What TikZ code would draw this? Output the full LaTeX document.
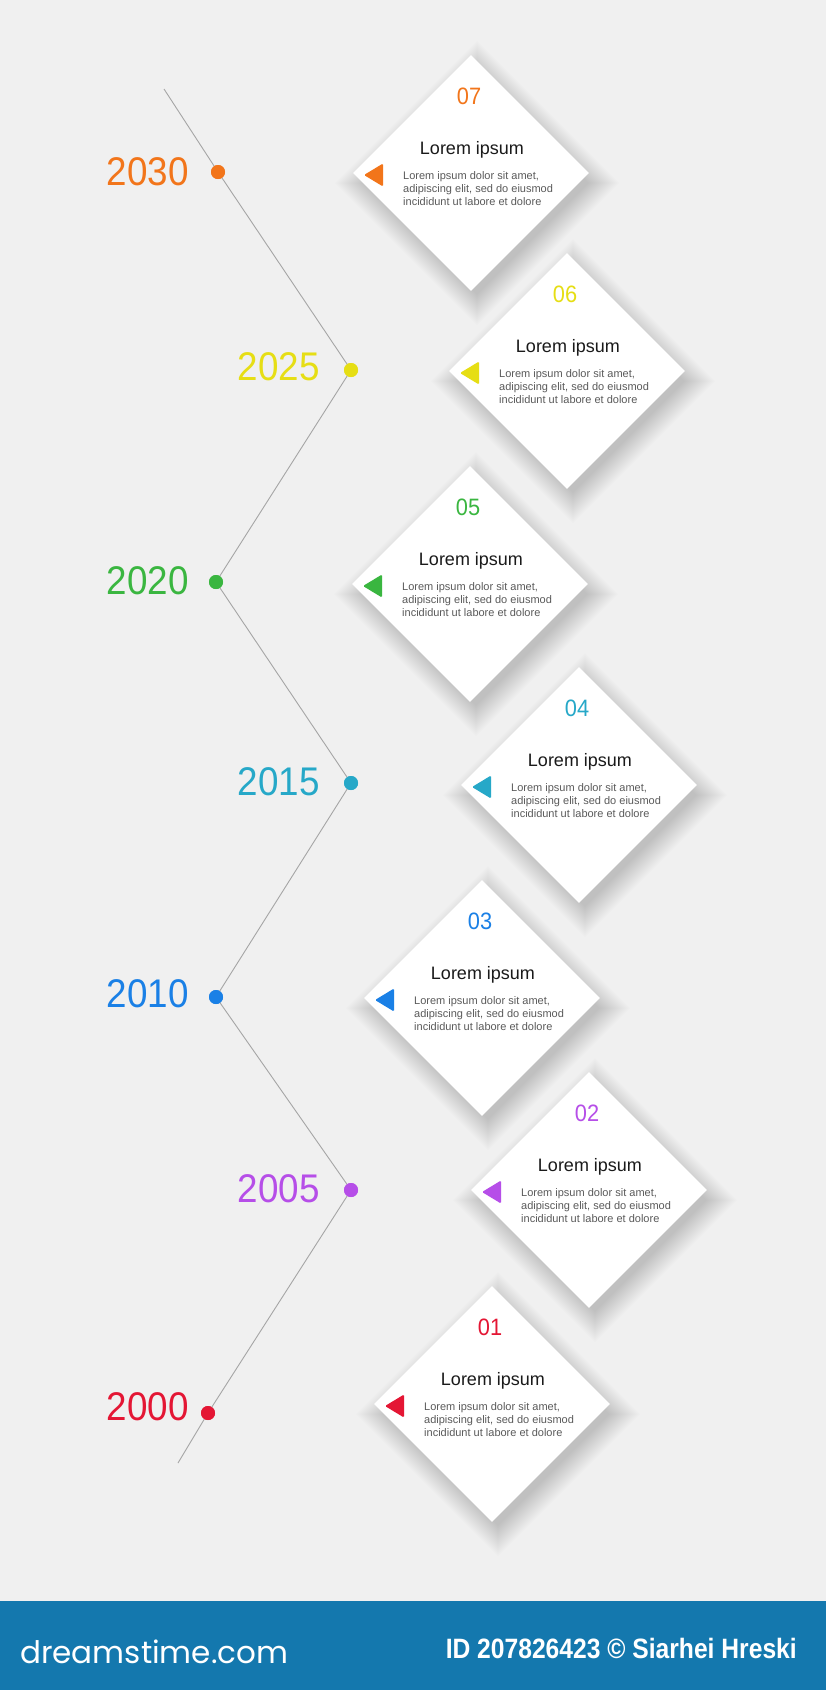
\documentclass[tikz,border=0pt]{standalone}
\usepackage{fontspec}
\setmainfont{Liberation Sans}
\newfontfamily\yearfont[FakeStretch=0.92]{Liberation Sans}
\newfontfamily\idfont[FakeStretch=0.88]{Liberation Sans}
\newfontfamily\logofont{Poppins}
\usetikzlibrary{calc,shapes.geometric}
\definecolor{bg}{RGB}{240,240,240}
\definecolor{cOrange}{RGB}{242,117,26}
\definecolor{cYellow}{RGB}{230,222,20}
\definecolor{cGreen}{RGB}{58,182,64}
\definecolor{cTeal}{RGB}{38,168,200}
\definecolor{cBlue}{RGB}{26,128,230}
\definecolor{cPurple}{RGB}{182,78,232}
\definecolor{cRed}{RGB}{228,22,52}
\definecolor{lineGray}{RGB}{165,165,165}
\definecolor{footerblue}{RGB}{20,120,174}
\definecolor{titlecol}{RGB}{26,26,26}
\definecolor{bodycol}{RGB}{90,90,90}
\begin{document}
\begin{tikzpicture}[x=1pt,y=-1pt,
  timeline/.style={draw=lineGray,line width=0.9pt},
  dot/.style={circle,inner sep=0pt,minimum size=14pt},
  year/.style={inner sep=0pt,font=\yearfont\fontsize{40}{40}\selectfont},
  numtxt/.style={inner sep=0pt,font=\yearfont\fontsize{23.7}{24}\selectfont},
  card/.style={diamond,fill=white,minimum width=236pt,minimum height=236pt,inner sep=0pt},
  shadowlayer/.style={fill=black,fill opacity=0.011},
  cardtitle/.style={inner sep=0pt,anchor=base,text=titlecol,font=\fontsize{18}{20}\selectfont},
  bodyline/.style={inner sep=0pt,anchor=base west,text=bodycol,font=\fontsize{11}{13}\selectfont},
  marker/.style={rounded corners=1.2pt}]
\useasboundingbox (0,0) rectangle (826,1690);
\fill[bg] (0,0) rectangle (826,1601);
\fill[footerblue] (0,1601) rectangle (826,1690);

% timeline
\coordinate (ltop) at (164,89);
\coordinate (lbot) at (178,1463);
\node[dot,fill=cOrange] (d2030) at (218,172) {};
\node[dot,fill=cYellow] (d2025) at (351,370) {};
\node[dot,fill=cGreen]  (d2020) at (216,582) {};
\node[dot,fill=cTeal]   (d2015) at (351,783) {};
\node[dot,fill=cBlue]   (d2010) at (216,997) {};
\node[dot,fill=cPurple] (d2005) at (351,1190) {};
\node[dot,fill=cRed]    (d2000) at (208,1413) {};
\draw[timeline] (ltop) -- (d2030.center) -- (d2025.center) -- (d2020.center) -- (d2015.center)
  -- (d2010.center) -- (d2005.center) -- (d2000.center) -- (lbot);
\foreach \d/\col in {d2030/cOrange,d2025/cYellow,d2020/cGreen,d2015/cTeal,d2010/cBlue,d2005/cPurple,d2000/cRed}
  \fill[\col] (\d.center) circle (7pt);

% years
\node[year,text=cOrange,anchor=east] (t2030) at (189,172) {2030};
\node[year,text=cYellow,anchor=east] (t2025) at (320,367) {2025};
\node[year,text=cGreen,anchor=east]  (t2020) at (189,581) {2020};
\node[year,text=cTeal,anchor=east]   (t2015) at (320,782) {2015};
\node[year,text=cBlue,anchor=east]   (t2010) at (189,994) {2010};
\node[year,text=cPurple,anchor=east] (t2005) at (320,1189) {2005};
\node[year,text=cRed,anchor=east]    (t2000) at (189,1407) {2000};

% cards
\foreach \n/\cx/\cy/\col in {07/471/173/cOrange,06/567/371/cYellow,05/470/584/cGreen,04/579/785/cTeal,03/482/998/cBlue,02/589/1190/cPurple,01/492/1404/cRed}{
  \coordinate (s\n) at (\cx+6,\cy+10);
  \foreach \h in {142,140,...,112}{
    \fill[shadowlayer] ($(s\n)+(0,-\h)$) -- ($(s\n)+(\h,0)$) -- ($(s\n)+(0,\h)$) -- ($(s\n)+(-\h,0)$) -- cycle;
  }
  \node[card] (c\n) at (\cx,\cy) {};
  \node[numtxt,text=\col] (n\n) at ($(c\n.center)+(-2,-77)$) {\n};
  \node[cardtitle] (h\n) at ($(c\n.center)+(1,-18.5)$) {Lorem ipsum};
  \node[bodyline] (la\n) at ($(c\n.center)+(-68,6)$) {Lorem ipsum dolor sit amet,};
  \node[bodyline] (lb\n) at ($(c\n.center)+(-68,19.3)$) {adipiscing elit, sed do eiusmod};
  \node[bodyline] (lc\n) at ($(c\n.center)+(-68,32.6)$) {incididunt ut labore et dolore};
  \fill[\col,marker] ($(c\n.center)+(-107,2)$) -- ($(c\n.center)+(-88,-9.5)$) -- ($(c\n.center)+(-88,13.5)$) -- cycle;
}

% footer
\node[inner sep=0pt,anchor=base west,text=white,font=\logofont\fontsize{31}{32}\selectfont] (logo) at (20,1663) {dreamstime.com};
\node[inner sep=0pt,anchor=base east,text=white,font=\idfont\bfseries\fontsize{28}{30}\selectfont] (credit) at (797,1658) {ID 207826423 © Siarhei Hreski};
\end{tikzpicture}
\end{document}
